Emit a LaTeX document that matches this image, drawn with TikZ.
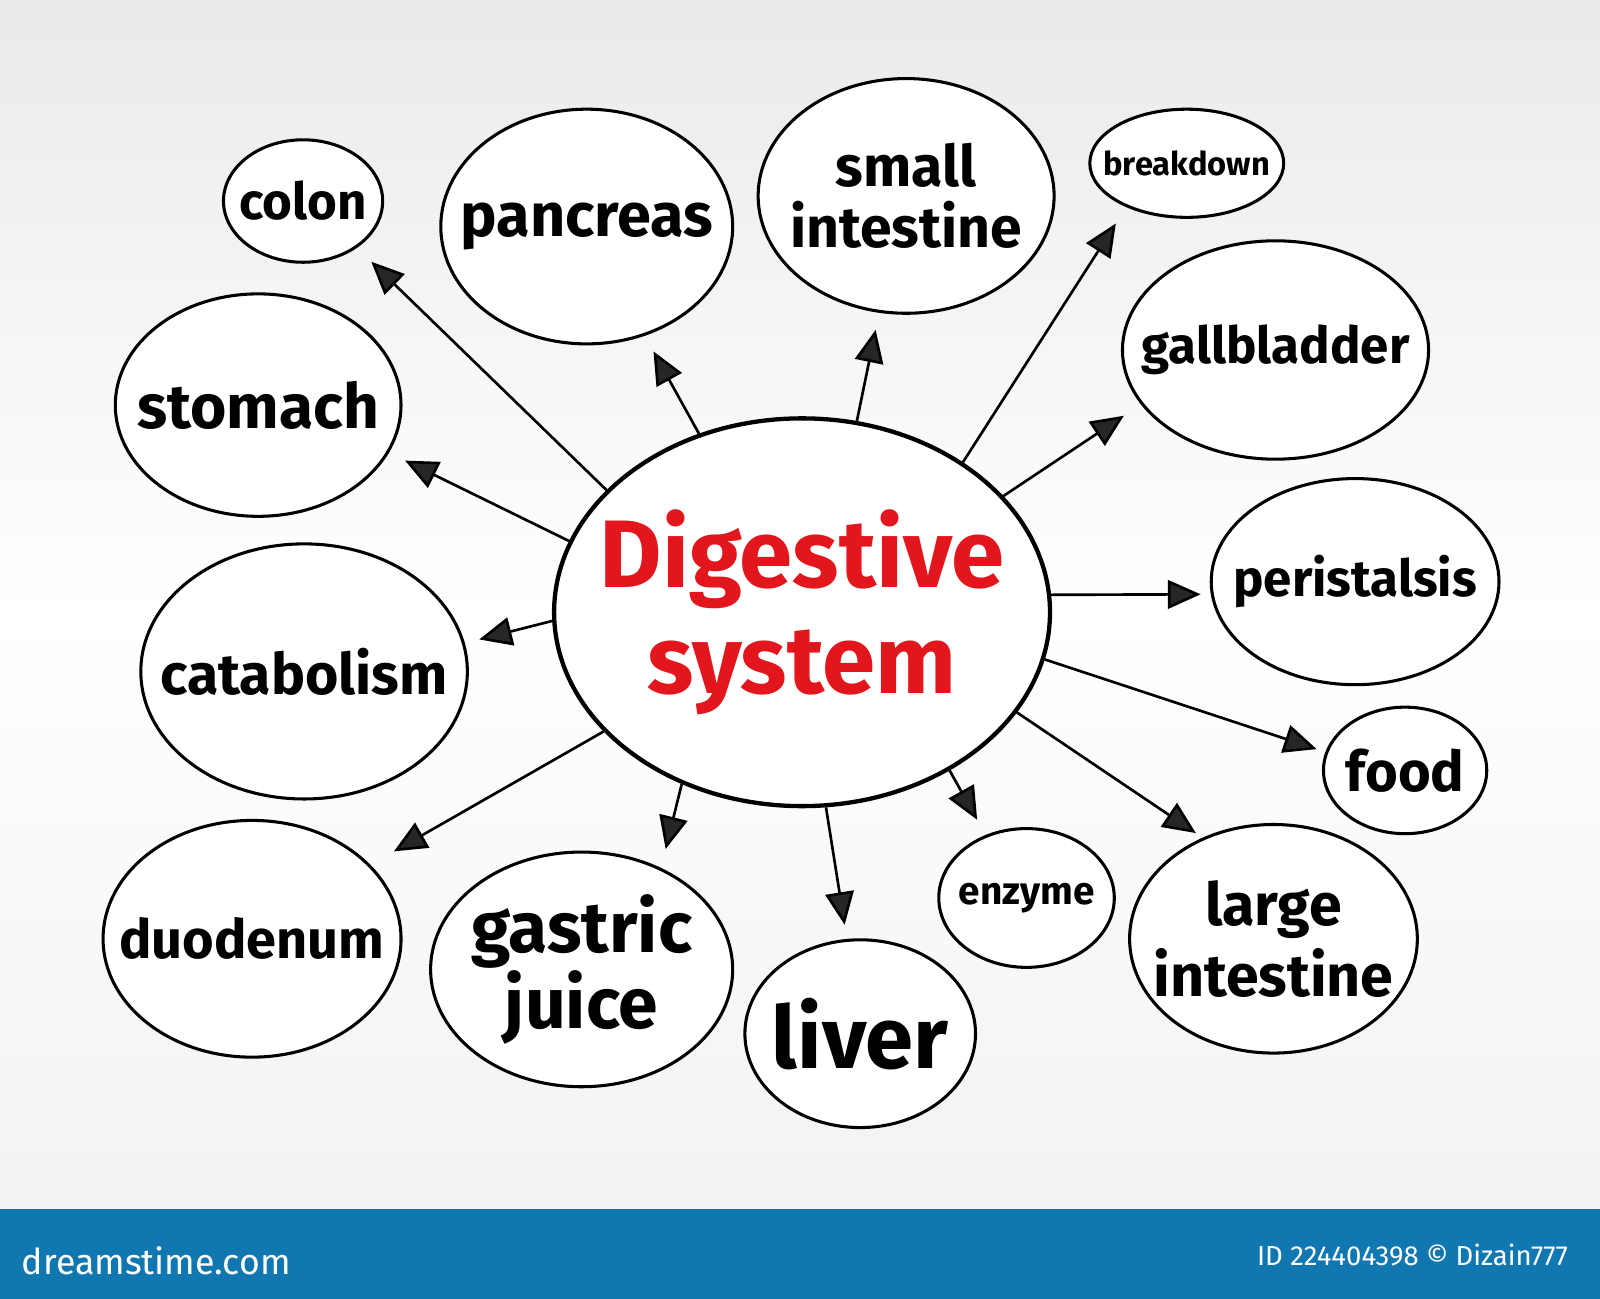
\documentclass[tikz,border=0pt]{standalone}
\usepackage{fontspec}
\setmainfont{Fira Sans}
\definecolor{myred}{RGB}{226,22,28}
\definecolor{myblue}{RGB}{17,119,176}
\definecolor{mygray}{RGB}{234,234,234}
\usetikzlibrary{shapes.geometric,arrows.meta}
\newcommand{\fs}[2]{\fontsize{#1}{#2}\selectfont}

\begin{document}
\begin{tikzpicture}[x=1pt,y=-1pt,
        bubble/.style={draw,ellipse,line width=3pt,fill=white,inner xsep=-40pt,inner ysep=0pt,align=center},
        hubnode/.style={bubble,line width=4.2pt,text=myred},
        arr/.style={line width=2.6pt,-{Triangle[length=32pt,width=28pt,fill=black!85]}}
        ]
        \useasboundingbox (0,0) rectangle (1568,1273);

        % the background
        \shade[top color=mygray,bottom color=white] (0,0) rectangle (1568,600);
        \shade[top color=white,bottom color=black!5] (0,600) rectangle (1568,1185);
        \fill[myblue] (0,1185) rectangle (1568,1273);
        \node[text=white,anchor=west,font=\fs{35}{35}] (site) at (18,1236) {dreamstime.com};
        \node[text=white,anchor=east,font=\fs{27}{27}] (credit) at (1540,1230) {ID 224404398 © Dizain777};

        % the centre
        \node[hubnode,minimum width=486pt,minimum height=380pt,font=\bfseries\fs{94}{104}] (hub) at (786,600) {Digestive\\system};

        % the bubbles
        \node[bubble,minimum width=156pt,minimum height=120pt,font=\bfseries\fs{50}{50}] (colon) at (297,197) {colon};
        \node[bubble,minimum width=286pt,minimum height=230pt,font=\bfseries\fs{60}{60}] (pancreas) at (575,222) {pancreas};
        \node[bubble,minimum width=290pt,minimum height=230pt,font=\bfseries\fs{56}{60}] (smallint) at (888,192) {small\\intestine};
        \node[bubble,minimum width=190pt,minimum height=106pt,font=\bfseries\fs{32}{32}] (breakdown) at (1163,160) {breakdown};
        \node[bubble,minimum width=300pt,minimum height=214pt,font=\bfseries\fs{50}{50}] (gallbladder) at (1250,343) {gallbladder};
        \node[bubble,minimum width=282pt,minimum height=202pt,font=\bfseries\fs{50}{50}] (peristalsis) at (1328,570) {peristalsis};
        \node[bubble,minimum width=160pt,minimum height=124pt,font=\bfseries\fs{55}{55}] (food) at (1377,755) {food};
        \node[bubble,minimum width=282pt,minimum height=224pt,font=\bfseries\fs{58}{70}] (largeint) at (1248,920) {large\\intestine};
        \node[bubble,minimum width=172pt,minimum height=136pt,font=\bfseries\fs{38}{38}] (enzyme) at (1006,880) {enzyme};
        \node[bubble,minimum width=226pt,minimum height=184pt,font=\bfseries\fs{85}{85}] (liver) at (843,1013) {liver};
        \node[bubble,minimum width=296pt,minimum height=230pt,font=\bfseries\fs{70}{74}] (gastric) at (570,950) {gastric\\juice};
        \node[bubble,minimum width=292pt,minimum height=232pt,font=\bfseries\fs{53}{53}] (duodenum) at (247,920) {duodenum};
        \node[bubble,minimum width=320pt,minimum height=250pt,font=\bfseries\fs{56}{56}] (catabolism) at (298,658) {catabolism};
        \node[bubble,minimum width=280pt,minimum height=218pt,font=\bfseries\fs{61}{61}] (stomach) at (253,397) {stomach};

        % the arrows
        \draw[arr,shorten >=19.5pt] (hub.148) -- (colon.-41);
        \draw[arr,shorten >=17.5pt] (hub.120) -- (pancreas.-62);
        \draw[arr,shorten >=17pt] (hub.74) -- (smallint.-103);
        \draw[arr,shorten >=19pt] (hub.43) -- (breakdown.-144);
        \draw[arr,shorten >=20pt] (hub.30) -- (gallbladder.-158);
        \draw[arr,shorten >=10pt] (hub.4) -- (peristalsis.-175);
        \draw[arr,shorten >=9pt] (hub.-11) -- (food.167);
        \draw[arr,shorten >=8pt] (hub.-25) -- (largeint.125);
        \draw[arr,shorten >=17pt] (hub.-47) -- (enzyme.123);
        \draw[arr,shorten >=14pt] (hub.-83) -- (liver.98);
        \draw[arr,shorten >=19pt] (hub.-125) -- (gastric.52);
        \draw[arr,shorten >=26.5pt] (hub.-149) -- (duodenum.32);
        \draw[arr,shorten >=14.5pt] (hub.-178) -- (catabolism.10);
        \draw[arr,shorten >=17.5pt] (hub.163) -- (stomach.-20);
\end{tikzpicture}
\end{document}
